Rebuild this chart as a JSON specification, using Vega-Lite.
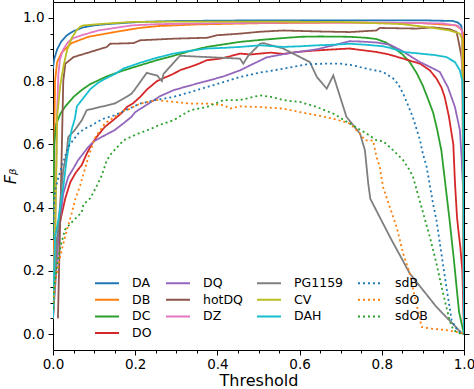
{
  "$schema": "https://vega.github.io/schema/vega-lite/v6.json",
  "width": 411,
  "height": 348,
  "autosize": {"type": "none"},
  "padding": {"left": 53, "top": 2, "right": 10, "bottom": 39},
  "config": {
    "view": {"stroke": "black", "strokeWidth": 1},
    "font": "DejaVu Sans",
    "axis": {"grid": false, "domain": false, "tickColor": "black", "tickWidth": 1, "labelColor": "black", "titleColor": "black", "labelFont": "DejaVu Sans", "titleFont": "DejaVu Sans", "labelFontSize": 13.5, "titleFontSize": 16, "titleFontWeight": "normal", "labelFlush": false, "labelOverlap": false}
  },
  "layer": [
    {
      "data": {"values": [
        {"s":"DA","x":0,"y":0.84},{"s":"DA","x":0.003,"y":0.87},{"s":"DA","x":0.01,"y":0.9},{"s":"DA","x":0.02,"y":0.925},{"s":"DA","x":0.034,"y":0.945},{"s":"DA","x":0.05,"y":0.958},{"s":"DA","x":0.074,"y":0.97},{"s":"DA","x":0.1,"y":0.976},{"s":"DA","x":0.13,"y":0.98},{"s":"DA","x":0.21,"y":0.987},{"s":"DA","x":0.3,"y":0.99},{"s":"DA","x":0.5,"y":0.992},{"s":"DA","x":0.7,"y":0.992},{"s":"DA","x":0.9,"y":0.992},{"s":"DA","x":0.973,"y":0.99},{"s":"DA","x":0.985,"y":0.985},{"s":"DA","x":0.993,"y":0.976},{"s":"DA","x":0.997,"y":0.95},{"s":"DA","x":1,"y":0},
        {"s":"DB","x":0,"y":0.1},{"s":"DB","x":0.003,"y":0.6},{"s":"DB","x":0.005,"y":0.8},{"s":"DB","x":0.01,"y":0.86},{"s":"DB","x":0.021,"y":0.89},{"s":"DB","x":0.045,"y":0.92},{"s":"DB","x":0.086,"y":0.94},{"s":"DB","x":0.15,"y":0.955},{"s":"DB","x":0.21,"y":0.968},{"s":"DB","x":0.256,"y":0.974},{"s":"DB","x":0.35,"y":0.979},{"s":"DB","x":0.504,"y":0.983},{"s":"DB","x":0.7,"y":0.985},{"s":"DB","x":0.9,"y":0.983},{"s":"DB","x":0.98,"y":0.976},{"s":"DB","x":0.993,"y":0.965},{"s":"DB","x":0.998,"y":0.95},{"s":"DB","x":1,"y":0},
        {"s":"DC","x":0,"y":0.3},{"s":"DC","x":0.003,"y":0.6},{"s":"DC","x":0.008,"y":0.665},{"s":"DC","x":0.018,"y":0.697},{"s":"DC","x":0.03,"y":0.72},{"s":"DC","x":0.05,"y":0.75},{"s":"DC","x":0.07,"y":0.772},{"s":"DC","x":0.09,"y":0.79},{"s":"DC","x":0.131,"y":0.815},{"s":"DC","x":0.17,"y":0.833},{"s":"DC","x":0.212,"y":0.85},{"s":"DC","x":0.25,"y":0.865},{"s":"DC","x":0.293,"y":0.88},{"s":"DC","x":0.334,"y":0.895},{"s":"DC","x":0.374,"y":0.908},{"s":"DC","x":0.415,"y":0.916},{"s":"DC","x":0.455,"y":0.924},{"s":"DC","x":0.504,"y":0.93},{"s":"DC","x":0.55,"y":0.935},{"s":"DC","x":0.601,"y":0.94},{"s":"DC","x":0.65,"y":0.941},{"s":"DC","x":0.722,"y":0.94},{"s":"DC","x":0.76,"y":0.937},{"s":"DC","x":0.787,"y":0.933},{"s":"DC","x":0.81,"y":0.922},{"s":"DC","x":0.828,"y":0.906},{"s":"DC","x":0.85,"y":0.885},{"s":"DC","x":0.868,"y":0.86},{"s":"DC","x":0.885,"y":0.825},{"s":"DC","x":0.9,"y":0.785},{"s":"DC","x":0.912,"y":0.745},{"s":"DC","x":0.925,"y":0.7},{"s":"DC","x":0.935,"y":0.645},{"s":"DC","x":0.945,"y":0.58},{"s":"DC","x":0.955,"y":0.47},{"s":"DC","x":0.965,"y":0.36},{"s":"DC","x":0.975,"y":0.24},{"s":"DC","x":0.988,"y":0.07},{"s":"DC","x":1,"y":0},
        {"s":"DO","x":0,"y":0.05},{"s":"DO","x":0.005,"y":0.2},{"s":"DO","x":0.01,"y":0.3},{"s":"DO","x":0.018,"y":0.36},{"s":"DO","x":0.03,"y":0.43},{"s":"DO","x":0.042,"y":0.48},{"s":"DO","x":0.055,"y":0.51},{"s":"DO","x":0.07,"y":0.535},{"s":"DO","x":0.082,"y":0.57},{"s":"DO","x":0.094,"y":0.6},{"s":"DO","x":0.11,"y":0.63},{"s":"DO","x":0.126,"y":0.655},{"s":"DO","x":0.145,"y":0.675},{"s":"DO","x":0.166,"y":0.698},{"s":"DO","x":0.18,"y":0.718},{"s":"DO","x":0.195,"y":0.73},{"s":"DO","x":0.212,"y":0.75},{"s":"DO","x":0.23,"y":0.775},{"s":"DO","x":0.253,"y":0.8},{"s":"DO","x":0.27,"y":0.81},{"s":"DO","x":0.293,"y":0.823},{"s":"DO","x":0.31,"y":0.835},{"s":"DO","x":0.334,"y":0.845},{"s":"DO","x":0.355,"y":0.855},{"s":"DO","x":0.374,"y":0.866},{"s":"DO","x":0.407,"y":0.871},{"s":"DO","x":0.43,"y":0.878},{"s":"DO","x":0.455,"y":0.887},{"s":"DO","x":0.48,"y":0.884},{"s":"DO","x":0.504,"y":0.887},{"s":"DO","x":0.53,"y":0.89},{"s":"DO","x":0.56,"y":0.886},{"s":"DO","x":0.6,"y":0.893},{"s":"DO","x":0.642,"y":0.897},{"s":"DO","x":0.68,"y":0.9},{"s":"DO","x":0.722,"y":0.903},{"s":"DO","x":0.75,"y":0.898},{"s":"DO","x":0.787,"y":0.892},{"s":"DO","x":0.815,"y":0.885},{"s":"DO","x":0.852,"y":0.871},{"s":"DO","x":0.893,"y":0.855},{"s":"DO","x":0.917,"y":0.834},{"s":"DO","x":0.933,"y":0.808},{"s":"DO","x":0.945,"y":0.78},{"s":"DO","x":0.953,"y":0.75},{"s":"DO","x":0.963,"y":0.69},{"s":"DO","x":0.974,"y":0.6},{"s":"DO","x":0.978,"y":0.48},{"s":"DO","x":0.983,"y":0.37},{"s":"DO","x":0.987,"y":0.32},{"s":"DO","x":0.991,"y":0.276},{"s":"DO","x":0.996,"y":0.2},{"s":"DO","x":1,"y":0},
        {"s":"DQ","x":0,"y":0.05},{"s":"DQ","x":0.008,"y":0.2},{"s":"DQ","x":0.013,"y":0.307},{"s":"DQ","x":0.025,"y":0.445},{"s":"DQ","x":0.037,"y":0.497},{"s":"DQ","x":0.05,"y":0.525},{"s":"DQ","x":0.061,"y":0.55},{"s":"DQ","x":0.086,"y":0.592},{"s":"DQ","x":0.1,"y":0.61},{"s":"DQ","x":0.118,"y":0.623},{"s":"DQ","x":0.15,"y":0.645},{"s":"DQ","x":0.17,"y":0.665},{"s":"DQ","x":0.191,"y":0.687},{"s":"DQ","x":0.2,"y":0.702},{"s":"DQ","x":0.228,"y":0.725},{"s":"DQ","x":0.26,"y":0.752},{"s":"DQ","x":0.293,"y":0.771},{"s":"DQ","x":0.33,"y":0.785},{"s":"DQ","x":0.374,"y":0.8},{"s":"DQ","x":0.415,"y":0.815},{"s":"DQ","x":0.455,"y":0.834},{"s":"DQ","x":0.48,"y":0.85},{"s":"DQ","x":0.504,"y":0.865},{"s":"DQ","x":0.52,"y":0.875},{"s":"DQ","x":0.56,"y":0.885},{"s":"DQ","x":0.601,"y":0.893},{"s":"DQ","x":0.64,"y":0.9},{"s":"DQ","x":0.682,"y":0.913},{"s":"DQ","x":0.722,"y":0.926},{"s":"DQ","x":0.75,"y":0.925},{"s":"DQ","x":0.787,"y":0.922},{"s":"DQ","x":0.82,"y":0.915},{"s":"DQ","x":0.85,"y":0.895},{"s":"DQ","x":0.868,"y":0.88},{"s":"DQ","x":0.89,"y":0.862},{"s":"DQ","x":0.917,"y":0.845},{"s":"DQ","x":0.941,"y":0.829},{"s":"DQ","x":0.961,"y":0.78},{"s":"DQ","x":0.978,"y":0.718},{"s":"DQ","x":0.99,"y":0.645},{"s":"DQ","x":0.994,"y":0.56},{"s":"DQ","x":0.998,"y":0.45},{"s":"DQ","x":1,"y":0},
        {"s":"hotDQ","x":0.012,"y":0.05},{"s":"hotDQ","x":0.02,"y":0.5},{"s":"hotDQ","x":0.025,"y":0.8},{"s":"hotDQ","x":0.03,"y":0.855},{"s":"hotDQ","x":0.05,"y":0.876},{"s":"hotDQ","x":0.091,"y":0.892},{"s":"hotDQ","x":0.131,"y":0.908},{"s":"hotDQ","x":0.139,"y":0.918},{"s":"hotDQ","x":0.196,"y":0.92},{"s":"hotDQ","x":0.212,"y":0.929},{"s":"hotDQ","x":0.293,"y":0.934},{"s":"hotDQ","x":0.374,"y":0.937},{"s":"hotDQ","x":0.4,"y":0.945},{"s":"hotDQ","x":0.455,"y":0.95},{"s":"hotDQ","x":0.504,"y":0.956},{"s":"hotDQ","x":0.56,"y":0.96},{"s":"hotDQ","x":0.642,"y":0.957},{"s":"hotDQ","x":0.722,"y":0.955},{"s":"hotDQ","x":0.787,"y":0.96},{"s":"hotDQ","x":0.795,"y":0.968},{"s":"hotDQ","x":0.885,"y":0.966},{"s":"hotDQ","x":0.925,"y":0.97},{"s":"hotDQ","x":0.965,"y":0.964},{"s":"hotDQ","x":0.982,"y":0.955},{"s":"hotDQ","x":0.988,"y":0.918},{"s":"hotDQ","x":0.994,"y":0.876},{"s":"hotDQ","x":0.998,"y":0.79},{"s":"hotDQ","x":1,"y":0},
        {"s":"DZ","x":0,"y":0.05},{"s":"DZ","x":0.005,"y":0.3},{"s":"DZ","x":0.01,"y":0.7},{"s":"DZ","x":0.013,"y":0.82},{"s":"DZ","x":0.017,"y":0.87},{"s":"DZ","x":0.025,"y":0.9},{"s":"DZ","x":0.037,"y":0.924},{"s":"DZ","x":0.05,"y":0.936},{"s":"DZ","x":0.07,"y":0.945},{"s":"DZ","x":0.11,"y":0.96},{"s":"DZ","x":0.191,"y":0.976},{"s":"DZ","x":0.256,"y":0.98},{"s":"DZ","x":0.4,"y":0.983},{"s":"DZ","x":0.6,"y":0.985},{"s":"DZ","x":0.8,"y":0.985},{"s":"DZ","x":0.95,"y":0.982},{"s":"DZ","x":0.985,"y":0.975},{"s":"DZ","x":0.995,"y":0.96},{"s":"DZ","x":1,"y":0},
        {"s":"PG1159","x":0,"y":0.05},{"s":"PG1159","x":0.01,"y":0.3},{"s":"PG1159","x":0.02,"y":0.45},{"s":"PG1159","x":0.025,"y":0.52},{"s":"PG1159","x":0.033,"y":0.571},{"s":"PG1159","x":0.037,"y":0.623},{"s":"PG1159","x":0.053,"y":0.645},{"s":"PG1159","x":0.07,"y":0.676},{"s":"PG1159","x":0.082,"y":0.708},{"s":"PG1159","x":0.15,"y":0.729},{"s":"PG1159","x":0.172,"y":0.745},{"s":"PG1159","x":0.191,"y":0.76},{"s":"PG1159","x":0.2,"y":0.775},{"s":"PG1159","x":0.228,"y":0.826},{"s":"PG1159","x":0.253,"y":0.818},{"s":"PG1159","x":0.265,"y":0.8},{"s":"PG1159","x":0.269,"y":0.823},{"s":"PG1159","x":0.309,"y":0.88},{"s":"PG1159","x":0.374,"y":0.876},{"s":"PG1159","x":0.455,"y":0.871},{"s":"PG1159","x":0.463,"y":0.855},{"s":"PG1159","x":0.475,"y":0.88},{"s":"PG1159","x":0.504,"y":0.918},{"s":"PG1159","x":0.512,"y":0.92},{"s":"PG1159","x":0.56,"y":0.903},{"s":"PG1159","x":0.625,"y":0.86},{"s":"PG1159","x":0.642,"y":0.813},{"s":"PG1159","x":0.666,"y":0.776},{"s":"PG1159","x":0.682,"y":0.818},{"s":"PG1159","x":0.714,"y":0.687},{"s":"PG1159","x":0.747,"y":0.634},{"s":"PG1159","x":0.759,"y":0.581},{"s":"PG1159","x":0.767,"y":0.476},{"s":"PG1159","x":0.772,"y":0.428},{"s":"PG1159","x":0.82,"y":0.307},{"s":"PG1159","x":0.868,"y":0.192},{"s":"PG1159","x":0.933,"y":0.086},{"s":"PG1159","x":0.997,"y":0},
        {"s":"CV","x":0,"y":0.05},{"s":"CV","x":0.005,"y":0.3},{"s":"CV","x":0.008,"y":0.5},{"s":"CV","x":0.01,"y":0.687},{"s":"CV","x":0.018,"y":0.79},{"s":"CV","x":0.026,"y":0.85},{"s":"CV","x":0.034,"y":0.897},{"s":"CV","x":0.045,"y":0.935},{"s":"CV","x":0.057,"y":0.96},{"s":"CV","x":0.066,"y":0.972},{"s":"CV","x":0.074,"y":0.976},{"s":"CV","x":0.11,"y":0.98},{"s":"CV","x":0.191,"y":0.987},{"s":"CV","x":0.3,"y":0.988},{"s":"CV","x":0.5,"y":0.988},{"s":"CV","x":0.7,"y":0.987},{"s":"CV","x":0.85,"y":0.98},{"s":"CV","x":0.925,"y":0.968},{"s":"CV","x":0.965,"y":0.96},{"s":"CV","x":0.99,"y":0.95},{"s":"CV","x":0.996,"y":0.93},{"s":"CV","x":1,"y":0},
        {"s":"DAH","x":0,"y":0.05},{"s":"DAH","x":0.005,"y":0.307},{"s":"DAH","x":0.013,"y":0.36},{"s":"DAH","x":0.025,"y":0.465},{"s":"DAH","x":0.033,"y":0.55},{"s":"DAH","x":0.045,"y":0.645},{"s":"DAH","x":0.053,"y":0.68},{"s":"DAH","x":0.058,"y":0.72},{"s":"DAH","x":0.07,"y":0.74},{"s":"DAH","x":0.091,"y":0.775},{"s":"DAH","x":0.11,"y":0.795},{"s":"DAH","x":0.131,"y":0.81},{"s":"DAH","x":0.15,"y":0.822},{"s":"DAH","x":0.172,"y":0.84},{"s":"DAH","x":0.19,"y":0.848},{"s":"DAH","x":0.212,"y":0.858},{"s":"DAH","x":0.256,"y":0.875},{"s":"DAH","x":0.293,"y":0.887},{"s":"DAH","x":0.33,"y":0.895},{"s":"DAH","x":0.374,"y":0.903},{"s":"DAH","x":0.415,"y":0.905},{"s":"DAH","x":0.455,"y":0.908},{"s":"DAH","x":0.504,"y":0.913},{"s":"DAH","x":0.56,"y":0.908},{"s":"DAH","x":0.6,"y":0.91},{"s":"DAH","x":0.642,"y":0.913},{"s":"DAH","x":0.682,"y":0.915},{"s":"DAH","x":0.722,"y":0.918},{"s":"DAH","x":0.76,"y":0.915},{"s":"DAH","x":0.803,"y":0.91},{"s":"DAH","x":0.82,"y":0.905},{"s":"DAH","x":0.852,"y":0.892},{"s":"DAH","x":0.893,"y":0.887},{"s":"DAH","x":0.93,"y":0.882},{"s":"DAH","x":0.957,"y":0.876},{"s":"DAH","x":0.978,"y":0.86},{"s":"DAH","x":0.99,"y":0.834},{"s":"DAH","x":0.996,"y":0.8},{"s":"DAH","x":0.998,"y":0.7},{"s":"DAH","x":1,"y":0},
        {"s":"sdB","x":0,"y":0.3},{"s":"sdB","x":0.002,"y":0.4},{"s":"sdB","x":0.005,"y":0.455},{"s":"sdB","x":0.012,"y":0.49},{"s":"sdB","x":0.021,"y":0.529},{"s":"sdB","x":0.037,"y":0.592},{"s":"sdB","x":0.05,"y":0.615},{"s":"sdB","x":0.061,"y":0.634},{"s":"sdB","x":0.075,"y":0.648},{"s":"sdB","x":0.094,"y":0.66},{"s":"sdB","x":0.12,"y":0.68},{"s":"sdB","x":0.15,"y":0.692},{"s":"sdB","x":0.18,"y":0.71},{"s":"sdB","x":0.212,"y":0.729},{"s":"sdB","x":0.25,"y":0.74},{"s":"sdB","x":0.293,"y":0.75},{"s":"sdB","x":0.334,"y":0.765},{"s":"sdB","x":0.374,"y":0.781},{"s":"sdB","x":0.415,"y":0.797},{"s":"sdB","x":0.455,"y":0.813},{"s":"sdB","x":0.504,"y":0.827},{"s":"sdB","x":0.56,"y":0.839},{"s":"sdB","x":0.617,"y":0.853},{"s":"sdB","x":0.66,"y":0.855},{"s":"sdB","x":0.698,"y":0.855},{"s":"sdB","x":0.73,"y":0.85},{"s":"sdB","x":0.763,"y":0.839},{"s":"sdB","x":0.803,"y":0.829},{"s":"sdB","x":0.828,"y":0.808},{"s":"sdB","x":0.84,"y":0.79},{"s":"sdB","x":0.852,"y":0.76},{"s":"sdB","x":0.865,"y":0.72},{"s":"sdB","x":0.876,"y":0.684},{"s":"sdB","x":0.893,"y":0.613},{"s":"sdB","x":0.9,"y":0.57},{"s":"sdB","x":0.909,"y":0.529},{"s":"sdB","x":0.917,"y":0.47},{"s":"sdB","x":0.925,"y":0.41},{"s":"sdB","x":0.933,"y":0.36},{"s":"sdB","x":0.945,"y":0.255},{"s":"sdB","x":0.957,"y":0.15},{"s":"sdB","x":0.97,"y":0.044},{"s":"sdB","x":0.985,"y":0.01},{"s":"sdB","x":1,"y":0},
        {"s":"sdO","x":0,"y":0.1},{"s":"sdO","x":0.006,"y":0.17},{"s":"sdO","x":0.02,"y":0.26},{"s":"sdO","x":0.034,"y":0.33},{"s":"sdO","x":0.045,"y":0.38},{"s":"sdO","x":0.055,"y":0.43},{"s":"sdO","x":0.066,"y":0.47},{"s":"sdO","x":0.072,"y":0.497},{"s":"sdO","x":0.086,"y":0.56},{"s":"sdO","x":0.102,"y":0.62},{"s":"sdO","x":0.115,"y":0.645},{"s":"sdO","x":0.126,"y":0.666},{"s":"sdO","x":0.15,"y":0.687},{"s":"sdO","x":0.172,"y":0.706},{"s":"sdO","x":0.183,"y":0.71},{"s":"sdO","x":0.212,"y":0.729},{"s":"sdO","x":0.253,"y":0.74},{"s":"sdO","x":0.293,"y":0.734},{"s":"sdO","x":0.334,"y":0.729},{"s":"sdO","x":0.374,"y":0.729},{"s":"sdO","x":0.415,"y":0.724},{"s":"sdO","x":0.43,"y":0.713},{"s":"sdO","x":0.455,"y":0.72},{"s":"sdO","x":0.504,"y":0.718},{"s":"sdO","x":0.56,"y":0.713},{"s":"sdO","x":0.601,"y":0.702},{"s":"sdO","x":0.642,"y":0.692},{"s":"sdO","x":0.682,"y":0.681},{"s":"sdO","x":0.722,"y":0.666},{"s":"sdO","x":0.747,"y":0.634},{"s":"sdO","x":0.759,"y":0.613},{"s":"sdO","x":0.779,"y":0.612},{"s":"sdO","x":0.787,"y":0.56},{"s":"sdO","x":0.795,"y":0.53},{"s":"sdO","x":0.803,"y":0.465},{"s":"sdO","x":0.812,"y":0.43},{"s":"sdO","x":0.836,"y":0.339},{"s":"sdO","x":0.852,"y":0.255},{"s":"sdO","x":0.868,"y":0.192},{"s":"sdO","x":0.88,"y":0.118},{"s":"sdO","x":0.889,"y":0.07},{"s":"sdO","x":0.897,"y":0.023},{"s":"sdO","x":0.917,"y":0.018},{"s":"sdO","x":0.957,"y":0.013},{"s":"sdO","x":0.994,"y":0.004},{"s":"sdO","x":1,"y":0},
        {"s":"sdOB","x":0,"y":0.08},{"s":"sdOB","x":0.002,"y":0.139},{"s":"sdOB","x":0.01,"y":0.22},{"s":"sdOB","x":0.018,"y":0.276},{"s":"sdOB","x":0.029,"y":0.33},{"s":"sdOB","x":0.05,"y":0.36},{"s":"sdOB","x":0.07,"y":0.385},{"s":"sdOB","x":0.074,"y":0.41},{"s":"sdOB","x":0.091,"y":0.43},{"s":"sdOB","x":0.107,"y":0.47},{"s":"sdOB","x":0.118,"y":0.5},{"s":"sdOB","x":0.131,"y":0.55},{"s":"sdOB","x":0.142,"y":0.571},{"s":"sdOB","x":0.172,"y":0.613},{"s":"sdOB","x":0.207,"y":0.634},{"s":"sdOB","x":0.24,"y":0.65},{"s":"sdOB","x":0.256,"y":0.66},{"s":"sdOB","x":0.293,"y":0.676},{"s":"sdOB","x":0.334,"y":0.708},{"s":"sdOB","x":0.374,"y":0.718},{"s":"sdOB","x":0.415,"y":0.74},{"s":"sdOB","x":0.455,"y":0.74},{"s":"sdOB","x":0.504,"y":0.755},{"s":"sdOB","x":0.53,"y":0.75},{"s":"sdOB","x":0.56,"y":0.74},{"s":"sdOB","x":0.601,"y":0.734},{"s":"sdOB","x":0.642,"y":0.718},{"s":"sdOB","x":0.682,"y":0.697},{"s":"sdOB","x":0.722,"y":0.666},{"s":"sdOB","x":0.763,"y":0.634},{"s":"sdOB","x":0.787,"y":0.613},{"s":"sdOB","x":0.803,"y":0.61},{"s":"sdOB","x":0.828,"y":0.581},{"s":"sdOB","x":0.852,"y":0.55},{"s":"sdOB","x":0.868,"y":0.518},{"s":"sdOB","x":0.876,"y":0.497},{"s":"sdOB","x":0.893,"y":0.418},{"s":"sdOB","x":0.917,"y":0.307},{"s":"sdOB","x":0.933,"y":0.223},{"s":"sdOB","x":0.949,"y":0.129},{"s":"sdOB","x":0.965,"y":0.044},{"s":"sdOB","x":0.974,"y":0.013},{"s":"sdOB","x":0.994,"y":0},{"s":"sdOB","x":1,"y":0}
      ]},
      "mark": {"type": "line", "strokeWidth": 1.8, "strokeCap": "butt", "clip": true},
      "encoding": {
        "x": {"field": "x", "type": "quantitative", "scale": {"domain": [0, 1], "nice": false, "zero": false},
              "axis": {"orient": "bottom", "values": [0, 0.2, 0.4, 0.6, 0.8, 1], "format": ".1f", "title": "Threshold", "tickSize": 5, "labelPadding": 2, "titlePadding": 2}},
        "y": {"field": "y", "type": "quantitative", "scale": {"domain": [-0.05, 1.05], "nice": false, "zero": false},
              "axis": {"orient": "left", "values": [0, 0.2, 0.4, 0.6, 0.8, 1], "format": ".1f", "title": "Fᵦ", "titleFontStyle": "italic", "tickSize": 5, "labelPadding": 4, "titlePadding": 4}},
        "color": {"field": "s", "type": "nominal",
                  "scale": {"domain": ["DA","DB","sdO","DAH","DQ","hotDQ","DC","sdOB","PG1159","CV","DZ","DO","sdB"],
                            "range": ["#1f77b4","#ff7f0e","#ff7f0e","#17becf","#9467bd","#8c564b","#2ca02c","#2ca02c","#7f7f7f","#bcbd22","#e377c2","#d62728","#1f77b4"]},
                  "legend": {"orient": "none", "legendX": 42, "legendY": 274, "columns": 4, "title": null, "symbolType": "M-2,0H2", "symbolSize": 144, "symbolStrokeWidth": 2, "symbolOffset": 5, "labelOffset": 18, "columnPadding": 10, "rowPadding": 2.7, "labelFontSize": 12.5, "labelFont": "DejaVu Sans", "labelColor": "black", "padding": 0}},
        "strokeDash": {"field": "s", "type": "nominal",
                  "scale": {"domain": ["DA","DB","sdO","DAH","DQ","hotDQ","DC","sdOB","PG1159","CV","DZ","DO","sdB"],
                            "range": [[1,0],[1,0],[2,3],[1,0],[1,0],[1,0],[1,0],[2,3],[1,0],[1,0],[1,0],[1,0],[2,3]]},
                  "legend": {"orient": "none", "legendX": 42, "legendY": 274, "columns": 4, "title": null, "symbolType": "M-2,0H2", "symbolSize": 144, "symbolStrokeWidth": 2, "symbolOffset": 5, "labelOffset": 18, "columnPadding": 10, "rowPadding": 2.7, "labelFontSize": 12.5, "labelFont": "DejaVu Sans", "labelColor": "black", "padding": 0}}
      }
    },
    {
      "data": {"values": [{}]},
      "mark": {"type": "point", "opacity": 0},
      "encoding": {
        "x": {"datum": 0, "type": "quantitative", "scale": {"domain": [0, 1], "nice": false, "zero": false},
              "axis": {"orient": "bottom", "values": [0.05,0.1,0.15,0.25,0.3,0.35,0.45,0.5,0.55,0.65,0.7,0.75,0.85,0.9,0.95], "labels": false, "tickSize": 3, "title": null}},
        "y": {"datum": 0, "type": "quantitative", "scale": {"domain": [-0.05, 1.05], "nice": false, "zero": false},
              "axis": {"orient": "left", "values": [0.05,0.1,0.15,0.25,0.3,0.35,0.45,0.5,0.55,0.65,0.7,0.75,0.85,0.9,0.95], "labels": false, "tickSize": 3, "title": null}}
      }
    },
    {
      "data": {"values": [{}]},
      "mark": {"type": "point", "opacity": 0},
      "encoding": {
        "x": {"datum": 0, "type": "quantitative", "scale": {"domain": [0, 1], "nice": false, "zero": false},
              "axis": {"orient": "top", "values": [0, 0.2, 0.4, 0.6, 0.8, 1], "labels": false, "tickSize": 5, "title": null}},
        "y": {"datum": 0, "type": "quantitative", "scale": {"domain": [-0.05, 1.05], "nice": false, "zero": false},
              "axis": {"orient": "right", "values": [0, 0.2, 0.4, 0.6, 0.8, 1], "labels": false, "tickSize": 5, "title": null}}
      }
    },
    {
      "data": {"values": [{}]},
      "mark": {"type": "point", "opacity": 0},
      "encoding": {
        "x": {"datum": 0, "type": "quantitative", "scale": {"domain": [0, 1], "nice": false, "zero": false},
              "axis": {"orient": "top", "values": [0.05,0.1,0.15,0.25,0.3,0.35,0.45,0.5,0.55,0.65,0.7,0.75,0.85,0.9,0.95], "labels": false, "tickSize": 3, "title": null}},
        "y": {"datum": 0, "type": "quantitative", "scale": {"domain": [-0.05, 1.05], "nice": false, "zero": false},
              "axis": {"orient": "right", "values": [0.05,0.1,0.15,0.25,0.3,0.35,0.45,0.5,0.55,0.65,0.7,0.75,0.85,0.9,0.95], "labels": false, "tickSize": 3, "title": null}}
      }
    }
  ],
  "resolve": {"axis": {"x": "independent", "y": "independent"}}
}
